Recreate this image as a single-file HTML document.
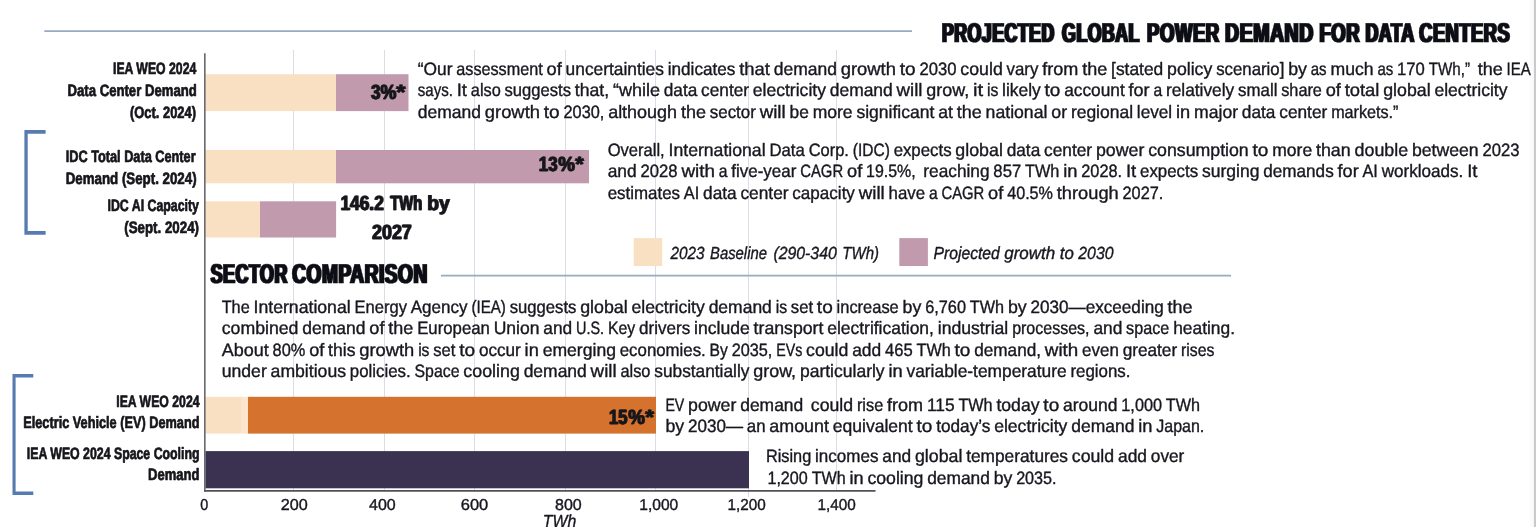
<!DOCTYPE html>
<html lang="en"><head><meta charset="utf-8"><title>Projected Global Power Demand for Data Centers</title>
<style>
html,body{margin:0;padding:0;background:#fff;overflow:hidden}
body{width:1536px;height:527px}
svg{display:block;text-rendering:geometricPrecision;will-change:transform;font-family:"Liberation Sans",sans-serif}
text{white-space:pre;stroke-linejoin:round}
.p{font-size:17.9px;fill:#17171f;stroke:#17171f;stroke-width:.38px}
.a{font-size:15.8px;fill:#17171f;stroke:#17171f;stroke-width:.38px}
.i{font-size:17.5px;font-style:italic;fill:#17171f;stroke:#17171f;stroke-width:.38px}
.u{font-size:17.5px;font-style:italic;fill:#17171f;stroke:#17171f;stroke-width:.38px}
.l{font-size:16.5px;font-weight:700;fill:#15151a;stroke:#15151a;stroke-width:.7px}
.v{font-size:20.6px;font-weight:700;fill:#15151a;stroke:#15151a;stroke-width:.4px;filter:url(#semi)}
.h{font-size:27.2px;font-weight:700;fill:#111116;stroke:#111116;stroke-width:.45px;letter-spacing:.8px;filter:url(#fat)}
</style>
</head><body>
<svg width="1536" height="527" viewBox="0 0 1536 527">
<defs><filter id="fat" x="-2%" y="-20%" width="104%" height="140%"><feMorphology operator="dilate" radius="1 0"/></filter><filter id="semi" x="-5%" y="-20%" width="110%" height="140%"><feOffset dx="1" dy="0" result="o"/><feMerge><feMergeNode in="SourceGraphic"/><feMergeNode in="o"/></feMerge></filter></defs>
<rect x="1530" y="0" width="4" height="527" fill="#fbfbfb"/>
<rect x="1533.9" y="0" width="2.1" height="527" fill="#cacaca"/>
<rect x="293" y="50" width="1" height="440" fill="#dadde6"/>
<rect x="384" y="50" width="1" height="440" fill="#dadde6"/>
<rect x="474" y="50" width="1" height="440" fill="#dadde6"/>
<rect x="565" y="50" width="1" height="440" fill="#dadde6"/>
<rect x="655" y="50" width="1" height="440" fill="#dadde6"/>
<rect x="748" y="60" width="1" height="437" fill="#dadde6"/>
<rect x="836" y="50" width="1" height="440" fill="#dadde6"/>
<line x1="44.3" y1="31.1" x2="912" y2="31.1" stroke="#97a9c3" stroke-width="1.6"/>
<line x1="441" y1="275.6" x2="1231" y2="275.6" stroke="#97a9c3" stroke-width="1.6"/>
<rect x="205.5" y="74.2" width="130.5" height="36.9" fill="#fae0c3"/>
<rect x="336" y="74.2" width="72.5" height="36.9" fill="#c19aae"/>
<rect x="205.5" y="150" width="130.5" height="33.3" fill="#fae0c3"/>
<rect x="336" y="150" width="253" height="33.3" fill="#c19aae"/>
<rect x="205.5" y="201.3" width="54.5" height="36.2" fill="#fae0c3"/>
<rect x="260" y="201.3" width="76.1" height="36.2" fill="#c19aae"/>
<rect x="205.5" y="396.8" width="35.5" height="36.8" fill="#fae0c3"/>
<rect x="241" y="396.8" width="7" height="36.8" fill="#fce5cc"/>
<rect x="248" y="396.8" width="408" height="36.8" fill="#d4722e"/>
<rect x="205.5" y="451.1" width="543.5" height="37.2" fill="#3b3252"/>
<rect x="633.7" y="238.1" width="28.5" height="27.9" fill="#fae0c3"/>
<rect x="899.3" y="238.1" width="28.6" height="27.9" fill="#c19aae"/>
<line x1="204.85" y1="53.3" x2="204.85" y2="491.6" stroke="#505058" stroke-width="1.4"/>
<line x1="204.1" y1="490.85" x2="875.5" y2="490.85" stroke="#505058" stroke-width="1.6"/>
<path d="M45.6,130.1 H24.4 V234.8 H45.6 V231.1 H27.7 V133.8 H45.6 Z" fill="#567bb0"/>
<path d="M33.3,374.1 H12.5 V494.9 H33.3 V491.4 H15.6 V377.6 H33.3 Z" fill="#567bb0"/>
<text class="h" y="42"><tspan x="942" textLength="112.7" lengthAdjust="spacingAndGlyphs">PROJECTED</tspan> <tspan x="1062.1" textLength="77.5" lengthAdjust="spacingAndGlyphs">GLOBAL</tspan> <tspan x="1147.1" textLength="72.7" lengthAdjust="spacingAndGlyphs">POWER</tspan> <tspan x="1225.1" textLength="88.7" lengthAdjust="spacingAndGlyphs">DEMAND</tspan> <tspan x="1319.5" textLength="40.7" lengthAdjust="spacingAndGlyphs">FOR</tspan> <tspan x="1365.4" textLength="48.6" lengthAdjust="spacingAndGlyphs">DATA</tspan> <tspan x="1419.2" textLength="90.9" lengthAdjust="spacingAndGlyphs">CENTERS</tspan></text>
<text class="h" y="283"><tspan x="210.7" textLength="77.1" lengthAdjust="spacingAndGlyphs">SECTOR</tspan> <tspan x="292.3" textLength="135.5" lengthAdjust="spacingAndGlyphs">COMPARISON</tspan></text>
<text class="l" y="74"><tspan x="113" textLength="83.25" lengthAdjust="spacingAndGlyphs">IEA WEO 2024</tspan></text>
<text class="l" y="96"><tspan x="67.5" textLength="129.3" lengthAdjust="spacingAndGlyphs">Data Center Demand</tspan></text>
<text class="l" y="118"><tspan x="130" textLength="66" lengthAdjust="spacingAndGlyphs">(Oct. 2024)</tspan></text>
<text class="l" y="162"><tspan x="65.75" textLength="129.85" lengthAdjust="spacingAndGlyphs">IDC Total Data Center</tspan></text>
<text class="l" y="184"><tspan x="65.75" textLength="130.85" lengthAdjust="spacingAndGlyphs">Demand (Sept. 2024)</tspan></text>
<text class="l" y="211"><tspan x="107.5" textLength="91.5" lengthAdjust="spacingAndGlyphs">IDC AI Capacity</tspan></text>
<text class="l" y="233"><tspan x="124.25" textLength="74.75" lengthAdjust="spacingAndGlyphs">(Sept. 2024)</tspan></text>
<text class="l" y="407"><tspan x="116.25" textLength="83.25" lengthAdjust="spacingAndGlyphs">IEA WEO 2024</tspan></text>
<text class="l" y="428"><tspan x="23.25" textLength="176.25" lengthAdjust="spacingAndGlyphs">Electric Vehicle (EV) Demand</tspan></text>
<text class="l" y="459"><tspan x="26.75" textLength="172.75" lengthAdjust="spacingAndGlyphs">IEA WEO 2024 Space Cooling</tspan></text>
<text class="l" y="480"><tspan x="148" textLength="51.5" lengthAdjust="spacingAndGlyphs">Demand</tspan></text>
<text class="v" y="99"><tspan x="370.4" textLength="9.5" lengthAdjust="spacingAndGlyphs">3</tspan><tspan x="380.1" textLength="15.8" lengthAdjust="spacingAndGlyphs">%</tspan><tspan x="395.8" textLength="9.2" lengthAdjust="spacingAndGlyphs">*</tspan></text>
<text class="v" y="171"><tspan x="538.3" textLength="18.7" lengthAdjust="spacingAndGlyphs">13</tspan><tspan x="557.8" textLength="16.7" lengthAdjust="spacingAndGlyphs">%</tspan><tspan x="574.8" textLength="8.5" lengthAdjust="spacingAndGlyphs">*</tspan></text>
<text class="v" y="424"><tspan x="608.5" textLength="18.5" lengthAdjust="spacingAndGlyphs">15</tspan><tspan x="627.8" textLength="16.7" lengthAdjust="spacingAndGlyphs">%</tspan><tspan x="644.8" textLength="8.7" lengthAdjust="spacingAndGlyphs">*</tspan></text>
<text class="v" y="210.4"><tspan x="339.9" textLength="43.4" lengthAdjust="spacingAndGlyphs">146.2</tspan> <tspan x="389.7" textLength="32" lengthAdjust="spacingAndGlyphs">TWh</tspan> <tspan x="426.7" textLength="22.6" lengthAdjust="spacingAndGlyphs">by</tspan></text>
<text class="v" y="239.4"><tspan x="371.5" textLength="39.8" lengthAdjust="spacingAndGlyphs">2027</tspan></text>
<text class="p" y="75"><tspan x="417.8" textLength="34.69" lengthAdjust="spacingAndGlyphs">“Our</tspan> <tspan x="456.31" textLength="86.45" lengthAdjust="spacingAndGlyphs">assessment</tspan> <tspan x="546.59" textLength="15.19" lengthAdjust="spacingAndGlyphs">of</tspan> <tspan x="565.61" textLength="98.33" lengthAdjust="spacingAndGlyphs">uncertainties</tspan> <tspan x="667.77" textLength="67.62" lengthAdjust="spacingAndGlyphs">indicates</tspan> <tspan x="739.22" textLength="30.68" lengthAdjust="spacingAndGlyphs">that</tspan> <tspan x="773.72" textLength="63.2" lengthAdjust="spacingAndGlyphs">demand</tspan> <tspan x="840.75" textLength="55.2" lengthAdjust="spacingAndGlyphs">growth</tspan> <tspan x="899.77" textLength="15.89" lengthAdjust="spacingAndGlyphs">to</tspan> <tspan x="919.49" textLength="37.05" lengthAdjust="spacingAndGlyphs">2030</tspan> <tspan x="960.37" textLength="42.4" lengthAdjust="spacingAndGlyphs">could</tspan> <tspan x="1006.59" textLength="31.8" lengthAdjust="spacingAndGlyphs">vary</tspan> <tspan x="1042.22" textLength="36.15" lengthAdjust="spacingAndGlyphs">from</tspan> <tspan x="1082.19" textLength="25.04" lengthAdjust="spacingAndGlyphs">the</tspan> <tspan x="1111.07" textLength="52.16" lengthAdjust="spacingAndGlyphs">[stated</tspan> <tspan x="1167.06" textLength="45.27" lengthAdjust="spacingAndGlyphs">policy</tspan> <tspan x="1216.15" textLength="68.18" lengthAdjust="spacingAndGlyphs">scenario]</tspan> <tspan x="1288.16" textLength="18.78" lengthAdjust="spacingAndGlyphs">by</tspan> <tspan x="1310.77" textLength="15.85" lengthAdjust="spacingAndGlyphs">as</tspan> <tspan x="1330.45" textLength="43.12" lengthAdjust="spacingAndGlyphs">much</tspan> <tspan x="1377.39" textLength="15.85" lengthAdjust="spacingAndGlyphs">as</tspan> <tspan x="1397.08" textLength="27.79" lengthAdjust="spacingAndGlyphs">170</tspan> <tspan x="1428.69" textLength="41.33" lengthAdjust="spacingAndGlyphs">TWh,”</tspan> <tspan x="1477.68" textLength="25.04" lengthAdjust="spacingAndGlyphs">the</tspan> <tspan x="1506.55" textLength="24.25" lengthAdjust="spacingAndGlyphs">IEA</tspan></text>
<text class="p" y="96"><tspan x="417.8" textLength="35.13" lengthAdjust="spacingAndGlyphs">says.</tspan> <tspan x="456.75" textLength="10.26" lengthAdjust="spacingAndGlyphs">It</tspan> <tspan x="470.82" textLength="29.93" lengthAdjust="spacingAndGlyphs">also</tspan> <tspan x="504.57" textLength="66.4" lengthAdjust="spacingAndGlyphs">suggests</tspan> <tspan x="574.78" textLength="34.31" lengthAdjust="spacingAndGlyphs">that,</tspan> <tspan x="612.9" textLength="47.08" lengthAdjust="spacingAndGlyphs">“while</tspan> <tspan x="663.8" textLength="33.46" lengthAdjust="spacingAndGlyphs">data</tspan> <tspan x="701.08" textLength="47.93" lengthAdjust="spacingAndGlyphs">center</tspan> <tspan x="752.82" textLength="73.11" lengthAdjust="spacingAndGlyphs">electricity</tspan> <tspan x="829.75" textLength="62.99" lengthAdjust="spacingAndGlyphs">demand</tspan> <tspan x="896.56" textLength="25.95" lengthAdjust="spacingAndGlyphs">will</tspan> <tspan x="926.33" textLength="42.8" lengthAdjust="spacingAndGlyphs">grow,</tspan> <tspan x="972.95" textLength="10.17" lengthAdjust="spacingAndGlyphs">it</tspan> <tspan x="986.93" textLength="11.34" lengthAdjust="spacingAndGlyphs">is</tspan> <tspan x="1002.08" textLength="38.64" lengthAdjust="spacingAndGlyphs">likely</tspan> <tspan x="1044.54" textLength="15.84" lengthAdjust="spacingAndGlyphs">to</tspan> <tspan x="1064.2" textLength="60.55" lengthAdjust="spacingAndGlyphs">account</tspan> <tspan x="1128.56" textLength="21.02" lengthAdjust="spacingAndGlyphs">for</tspan> <tspan x="1153.4" textLength="8.68" lengthAdjust="spacingAndGlyphs">a</tspan> <tspan x="1165.89" textLength="68.39" lengthAdjust="spacingAndGlyphs">relatively</tspan> <tspan x="1238.1" textLength="39.31" lengthAdjust="spacingAndGlyphs">small</tspan> <tspan x="1281.22" textLength="40.69" lengthAdjust="spacingAndGlyphs">share</tspan> <tspan x="1325.73" textLength="15.14" lengthAdjust="spacingAndGlyphs">of</tspan> <tspan x="1344.69" textLength="34.72" lengthAdjust="spacingAndGlyphs">total</tspan> <tspan x="1383.22" textLength="47.35" lengthAdjust="spacingAndGlyphs">global</tspan> <tspan x="1434.39" textLength="73.11" lengthAdjust="spacingAndGlyphs">electricity</tspan></text>
<text class="p" y="118"><tspan x="417.8" textLength="63.19" lengthAdjust="spacingAndGlyphs">demand</tspan> <tspan x="484.81" textLength="55.19" lengthAdjust="spacingAndGlyphs">growth</tspan> <tspan x="543.83" textLength="15.89" lengthAdjust="spacingAndGlyphs">to</tspan> <tspan x="563.54" textLength="40.78" lengthAdjust="spacingAndGlyphs">2030,</tspan> <tspan x="608.15" textLength="68.93" lengthAdjust="spacingAndGlyphs">although</tspan> <tspan x="680.91" textLength="25.04" lengthAdjust="spacingAndGlyphs">the</tspan> <tspan x="709.77" textLength="46.07" lengthAdjust="spacingAndGlyphs">sector</tspan> <tspan x="759.67" textLength="26.03" lengthAdjust="spacingAndGlyphs">will</tspan> <tspan x="789.53" textLength="19.32" lengthAdjust="spacingAndGlyphs">be</tspan> <tspan x="812.68" textLength="39.92" lengthAdjust="spacingAndGlyphs">more</tspan> <tspan x="856.42" textLength="77.99" lengthAdjust="spacingAndGlyphs">significant</tspan> <tspan x="938.24" textLength="14.68" lengthAdjust="spacingAndGlyphs">at</tspan> <tspan x="956.74" textLength="25.04" lengthAdjust="spacingAndGlyphs">the</tspan> <tspan x="985.61" textLength="61.81" lengthAdjust="spacingAndGlyphs">national</tspan> <tspan x="1051.25" textLength="15.81" lengthAdjust="spacingAndGlyphs">or</tspan> <tspan x="1070.89" textLength="62.16" lengthAdjust="spacingAndGlyphs">regional</tspan> <tspan x="1136.87" textLength="35.29" lengthAdjust="spacingAndGlyphs">level</tspan> <tspan x="1176" textLength="14.24" lengthAdjust="spacingAndGlyphs">in</tspan> <tspan x="1194.07" textLength="43.96" lengthAdjust="spacingAndGlyphs">major</tspan> <tspan x="1241.85" textLength="33.56" lengthAdjust="spacingAndGlyphs">data</tspan> <tspan x="1279.24" textLength="48.08" lengthAdjust="spacingAndGlyphs">center</tspan> <tspan x="1331.14" textLength="67.36" lengthAdjust="spacingAndGlyphs">markets.”</tspan></text>
<text class="p" y="156"><tspan x="607.7" textLength="57.02" lengthAdjust="spacingAndGlyphs">Overall,</tspan> <tspan x="668.54" textLength="97.05" lengthAdjust="spacingAndGlyphs">International</tspan> <tspan x="769.42" textLength="35.39" lengthAdjust="spacingAndGlyphs">Data</tspan> <tspan x="808.64" textLength="40.28" lengthAdjust="spacingAndGlyphs">Corp.</tspan> <tspan x="852.75" textLength="37.05" lengthAdjust="spacingAndGlyphs">(IDC)</tspan> <tspan x="893.63" textLength="57.92" lengthAdjust="spacingAndGlyphs">expects</tspan> <tspan x="955.37" textLength="47.49" lengthAdjust="spacingAndGlyphs">global</tspan> <tspan x="1006.68" textLength="33.55" lengthAdjust="spacingAndGlyphs">data</tspan> <tspan x="1044.06" textLength="48.06" lengthAdjust="spacingAndGlyphs">center</tspan> <tspan x="1095.95" textLength="48.41" lengthAdjust="spacingAndGlyphs">power</tspan> <tspan x="1148.19" textLength="100.55" lengthAdjust="spacingAndGlyphs">consumption</tspan> <tspan x="1252.56" textLength="15.88" lengthAdjust="spacingAndGlyphs">to</tspan> <tspan x="1272.27" textLength="39.91" lengthAdjust="spacingAndGlyphs">more</tspan> <tspan x="1316" textLength="34.71" lengthAdjust="spacingAndGlyphs">than</tspan> <tspan x="1354.54" textLength="53.6" lengthAdjust="spacingAndGlyphs">double</tspan> <tspan x="1411.97" textLength="66.67" lengthAdjust="spacingAndGlyphs">between</tspan> <tspan x="1482.46" textLength="37.04" lengthAdjust="spacingAndGlyphs">2023</tspan></text>
<text class="p" y="177"><tspan x="607.7" textLength="28.95" lengthAdjust="spacingAndGlyphs">and</tspan> <tspan x="640.48" textLength="37.1" lengthAdjust="spacingAndGlyphs">2028</tspan> <tspan x="681.41" textLength="33.56" lengthAdjust="spacingAndGlyphs">with</tspan> <tspan x="718.8" textLength="8.71" lengthAdjust="spacingAndGlyphs">a</tspan> <tspan x="731.35" textLength="65.02" lengthAdjust="spacingAndGlyphs">five-year</tspan> <tspan x="800.2" textLength="42.96" lengthAdjust="spacingAndGlyphs">CAGR</tspan> <tspan x="847" textLength="15.21" lengthAdjust="spacingAndGlyphs">of</tspan> <tspan x="866.03" textLength="49.63" lengthAdjust="spacingAndGlyphs">19.5%,</tspan> <tspan x="923.33" textLength="66.19" lengthAdjust="spacingAndGlyphs">reaching</tspan> <tspan x="993.36" textLength="27.83" lengthAdjust="spacingAndGlyphs">857</tspan> <tspan x="1025.02" textLength="34.32" lengthAdjust="spacingAndGlyphs">TWh</tspan> <tspan x="1063.17" textLength="14.27" lengthAdjust="spacingAndGlyphs">in</tspan> <tspan x="1081.27" textLength="40.84" lengthAdjust="spacingAndGlyphs">2028.</tspan> <tspan x="1125.94" textLength="10.31" lengthAdjust="spacingAndGlyphs">It</tspan> <tspan x="1140.08" textLength="58.02" lengthAdjust="spacingAndGlyphs">expects</tspan> <tspan x="1201.93" textLength="57.51" lengthAdjust="spacingAndGlyphs">surging</tspan> <tspan x="1263.28" textLength="70.44" lengthAdjust="spacingAndGlyphs">demands</tspan> <tspan x="1337.56" textLength="21.12" lengthAdjust="spacingAndGlyphs">for</tspan> <tspan x="1362.51" textLength="15.39" lengthAdjust="spacingAndGlyphs">AI</tspan> <tspan x="1381.73" textLength="81.63" lengthAdjust="spacingAndGlyphs">workloads.</tspan> <tspan x="1467.19" textLength="10.31" lengthAdjust="spacingAndGlyphs">It</tspan></text>
<text class="p" y="199"><tspan x="607.7" textLength="72.33" lengthAdjust="spacingAndGlyphs">estimates</tspan> <tspan x="683.86" textLength="15.37" lengthAdjust="spacingAndGlyphs">AI</tspan> <tspan x="703.05" textLength="33.56" lengthAdjust="spacingAndGlyphs">data</tspan> <tspan x="740.44" textLength="48.08" lengthAdjust="spacingAndGlyphs">center</tspan> <tspan x="792.35" textLength="62.56" lengthAdjust="spacingAndGlyphs">capacity</tspan> <tspan x="858.74" textLength="26.04" lengthAdjust="spacingAndGlyphs">will</tspan> <tspan x="888.61" textLength="36.45" lengthAdjust="spacingAndGlyphs">have</tspan> <tspan x="928.89" textLength="8.7" lengthAdjust="spacingAndGlyphs">a</tspan> <tspan x="941.42" textLength="42.9" lengthAdjust="spacingAndGlyphs">CAGR</tspan> <tspan x="988.14" textLength="15.18" lengthAdjust="spacingAndGlyphs">of</tspan> <tspan x="1007.16" textLength="45.82" lengthAdjust="spacingAndGlyphs">40.5%</tspan> <tspan x="1056.81" textLength="61.88" lengthAdjust="spacingAndGlyphs">through</tspan> <tspan x="1122.51" textLength="40.79" lengthAdjust="spacingAndGlyphs">2027.</tspan></text>
<text class="p" y="313"><tspan x="221.7" textLength="28.04" lengthAdjust="spacingAndGlyphs">The</tspan> <tspan x="253.57" textLength="97.08" lengthAdjust="spacingAndGlyphs">International</tspan> <tspan x="354.48" textLength="52.45" lengthAdjust="spacingAndGlyphs">Energy</tspan> <tspan x="410.76" textLength="56.8" lengthAdjust="spacingAndGlyphs">Agency</tspan> <tspan x="471.39" textLength="34.5" lengthAdjust="spacingAndGlyphs">(IEA)</tspan> <tspan x="509.72" textLength="66.61" lengthAdjust="spacingAndGlyphs">suggests</tspan> <tspan x="580.15" textLength="47.5" lengthAdjust="spacingAndGlyphs">global</tspan> <tspan x="631.48" textLength="73.34" lengthAdjust="spacingAndGlyphs">electricity</tspan> <tspan x="708.65" textLength="63.19" lengthAdjust="spacingAndGlyphs">demand</tspan> <tspan x="775.67" textLength="11.37" lengthAdjust="spacingAndGlyphs">is</tspan> <tspan x="790.87" textLength="22.17" lengthAdjust="spacingAndGlyphs">set</tspan> <tspan x="816.87" textLength="15.89" lengthAdjust="spacingAndGlyphs">to</tspan> <tspan x="836.59" textLength="62.18" lengthAdjust="spacingAndGlyphs">increase</tspan> <tspan x="902.6" textLength="18.78" lengthAdjust="spacingAndGlyphs">by</tspan> <tspan x="925.2" textLength="40.79" lengthAdjust="spacingAndGlyphs">6,760</tspan> <tspan x="969.82" textLength="34.27" lengthAdjust="spacingAndGlyphs">TWh</tspan> <tspan x="1007.91" textLength="18.78" lengthAdjust="spacingAndGlyphs">by</tspan> <tspan x="1030.52" textLength="133.21" lengthAdjust="spacingAndGlyphs">2030—exceeding</tspan> <tspan x="1167.56" textLength="25.04" lengthAdjust="spacingAndGlyphs">the</tspan></text>
<text class="p" y="334"><tspan x="221.7" textLength="76.79" lengthAdjust="spacingAndGlyphs">combined</tspan> <tspan x="302.31" textLength="63.18" lengthAdjust="spacingAndGlyphs">demand</tspan> <tspan x="369.31" textLength="15.18" lengthAdjust="spacingAndGlyphs">of</tspan> <tspan x="388.32" textLength="25.04" lengthAdjust="spacingAndGlyphs">the</tspan> <tspan x="417.18" textLength="72.67" lengthAdjust="spacingAndGlyphs">European</tspan> <tspan x="493.68" textLength="45.85" lengthAdjust="spacingAndGlyphs">Union</tspan> <tspan x="543.35" textLength="28.9" lengthAdjust="spacingAndGlyphs">and</tspan> <tspan x="576.08" textLength="28.05" lengthAdjust="spacingAndGlyphs">U.S.</tspan> <tspan x="607.96" textLength="27.33" lengthAdjust="spacingAndGlyphs">Key</tspan> <tspan x="639.11" textLength="51.08" lengthAdjust="spacingAndGlyphs">drivers</tspan> <tspan x="694.02" textLength="55.76" lengthAdjust="spacingAndGlyphs">include</tspan> <tspan x="753.6" textLength="69.8" lengthAdjust="spacingAndGlyphs">transport</tspan> <tspan x="827.23" textLength="106.68" lengthAdjust="spacingAndGlyphs">electrification,</tspan> <tspan x="937.73" textLength="70.58" lengthAdjust="spacingAndGlyphs">industrial</tspan> <tspan x="1012.13" textLength="77.44" lengthAdjust="spacingAndGlyphs">processes,</tspan> <tspan x="1093.4" textLength="28.9" lengthAdjust="spacingAndGlyphs">and</tspan> <tspan x="1126.12" textLength="43.25" lengthAdjust="spacingAndGlyphs">space</tspan> <tspan x="1173.2" textLength="61.8" lengthAdjust="spacingAndGlyphs">heating.</tspan></text>
<text class="p" y="356"><tspan x="221.7" textLength="47.06" lengthAdjust="spacingAndGlyphs">About</tspan> <tspan x="272.58" textLength="32.75" lengthAdjust="spacingAndGlyphs">80%</tspan> <tspan x="309.15" textLength="15.15" lengthAdjust="spacingAndGlyphs">of</tspan> <tspan x="328.12" textLength="27.31" lengthAdjust="spacingAndGlyphs">this</tspan> <tspan x="359.25" textLength="55.07" lengthAdjust="spacingAndGlyphs">growth</tspan> <tspan x="418.14" textLength="11.35" lengthAdjust="spacingAndGlyphs">is</tspan> <tspan x="433.31" textLength="22.12" lengthAdjust="spacingAndGlyphs">set</tspan> <tspan x="459.25" textLength="15.85" lengthAdjust="spacingAndGlyphs">to</tspan> <tspan x="478.93" textLength="41.85" lengthAdjust="spacingAndGlyphs">occur</tspan> <tspan x="524.6" textLength="14.21" lengthAdjust="spacingAndGlyphs">in</tspan> <tspan x="542.63" textLength="73.32" lengthAdjust="spacingAndGlyphs">emerging</tspan> <tspan x="619.77" textLength="86.01" lengthAdjust="spacingAndGlyphs">economies.</tspan> <tspan x="709.6" textLength="18.25" lengthAdjust="spacingAndGlyphs">By</tspan> <tspan x="731.67" textLength="40.7" lengthAdjust="spacingAndGlyphs">2035,</tspan> <tspan x="776.19" textLength="26.05" lengthAdjust="spacingAndGlyphs">EVs</tspan> <tspan x="806.06" textLength="42.3" lengthAdjust="spacingAndGlyphs">could</tspan> <tspan x="852.18" textLength="29.01" lengthAdjust="spacingAndGlyphs">add</tspan> <tspan x="885" textLength="27.73" lengthAdjust="spacingAndGlyphs">465</tspan> <tspan x="916.55" textLength="34.19" lengthAdjust="spacingAndGlyphs">TWh</tspan> <tspan x="954.56" textLength="15.85" lengthAdjust="spacingAndGlyphs">to</tspan> <tspan x="974.23" textLength="66.78" lengthAdjust="spacingAndGlyphs">demand,</tspan> <tspan x="1044.84" textLength="33.44" lengthAdjust="spacingAndGlyphs">with</tspan> <tspan x="1082.09" textLength="36.72" lengthAdjust="spacingAndGlyphs">even</tspan> <tspan x="1122.63" textLength="54.55" lengthAdjust="spacingAndGlyphs">greater</tspan> <tspan x="1181" textLength="33.4" lengthAdjust="spacingAndGlyphs">rises</tspan></text>
<text class="p" y="377"><tspan x="221.7" textLength="45.07" lengthAdjust="spacingAndGlyphs">under</tspan> <tspan x="270.6" textLength="75.42" lengthAdjust="spacingAndGlyphs">ambitious</tspan> <tspan x="349.84" textLength="60.88" lengthAdjust="spacingAndGlyphs">policies.</tspan> <tspan x="414.54" textLength="44.98" lengthAdjust="spacingAndGlyphs">Space</tspan> <tspan x="463.35" textLength="56.47" lengthAdjust="spacingAndGlyphs">cooling</tspan> <tspan x="523.65" textLength="63.15" lengthAdjust="spacingAndGlyphs">demand</tspan> <tspan x="590.62" textLength="26.02" lengthAdjust="spacingAndGlyphs">will</tspan> <tspan x="620.46" textLength="30.01" lengthAdjust="spacingAndGlyphs">also</tspan> <tspan x="654.3" textLength="95.09" lengthAdjust="spacingAndGlyphs">substantially</tspan> <tspan x="753.21" textLength="42.91" lengthAdjust="spacingAndGlyphs">grow,</tspan> <tspan x="799.94" textLength="84.69" lengthAdjust="spacingAndGlyphs">particularly</tspan> <tspan x="888.46" textLength="14.24" lengthAdjust="spacingAndGlyphs">in</tspan> <tspan x="906.52" textLength="160.11" lengthAdjust="spacingAndGlyphs">variable-temperature</tspan> <tspan x="1070.45" textLength="60.05" lengthAdjust="spacingAndGlyphs">regions.</tspan></text>
<text class="p" y="411"><tspan x="665.4" textLength="18.9" lengthAdjust="spacingAndGlyphs">EV</tspan> <tspan x="688.12" textLength="48.28" lengthAdjust="spacingAndGlyphs">power</tspan> <tspan x="740.22" textLength="63.01" lengthAdjust="spacingAndGlyphs">demand</tspan> <tspan x="810.86" textLength="42.27" lengthAdjust="spacingAndGlyphs">could</tspan> <tspan x="856.95" textLength="26.25" lengthAdjust="spacingAndGlyphs">rise</tspan> <tspan x="887.02" textLength="36.04" lengthAdjust="spacingAndGlyphs">from</tspan> <tspan x="926.88" textLength="27.71" lengthAdjust="spacingAndGlyphs">115</tspan> <tspan x="958.4" textLength="34.17" lengthAdjust="spacingAndGlyphs">TWh</tspan> <tspan x="996.39" textLength="43.15" lengthAdjust="spacingAndGlyphs">today</tspan> <tspan x="1043.36" textLength="15.84" lengthAdjust="spacingAndGlyphs">to</tspan> <tspan x="1063.01" textLength="54.51" lengthAdjust="spacingAndGlyphs">around</tspan> <tspan x="1121.34" textLength="40.67" lengthAdjust="spacingAndGlyphs">1,000</tspan> <tspan x="1165.83" textLength="34.17" lengthAdjust="spacingAndGlyphs">TWh</tspan></text>
<text class="p" y="432"><tspan x="665.4" textLength="18.76" lengthAdjust="spacingAndGlyphs">by</tspan> <tspan x="687.98" textLength="55.04" lengthAdjust="spacingAndGlyphs">2030—</tspan> <tspan x="746.84" textLength="18.7" lengthAdjust="spacingAndGlyphs">an</tspan> <tspan x="769.37" textLength="59.55" lengthAdjust="spacingAndGlyphs">amount</tspan> <tspan x="832.74" textLength="79.98" lengthAdjust="spacingAndGlyphs">equivalent</tspan> <tspan x="916.55" textLength="15.87" lengthAdjust="spacingAndGlyphs">to</tspan> <tspan x="936.24" textLength="54.1" lengthAdjust="spacingAndGlyphs">today’s</tspan> <tspan x="994.16" textLength="73.26" lengthAdjust="spacingAndGlyphs">electricity</tspan> <tspan x="1071.24" textLength="63.12" lengthAdjust="spacingAndGlyphs">demand</tspan> <tspan x="1138.19" textLength="14.23" lengthAdjust="spacingAndGlyphs">in</tspan> <tspan x="1156.24" textLength="48.06" lengthAdjust="spacingAndGlyphs">Japan.</tspan></text>
<text class="p" y="462"><tspan x="765.9" textLength="45.34" lengthAdjust="spacingAndGlyphs">Rising</tspan> <tspan x="815.06" textLength="63.38" lengthAdjust="spacingAndGlyphs">incomes</tspan> <tspan x="882.27" textLength="28.85" lengthAdjust="spacingAndGlyphs">and</tspan> <tspan x="914.94" textLength="47.42" lengthAdjust="spacingAndGlyphs">global</tspan> <tspan x="966.18" textLength="101.84" lengthAdjust="spacingAndGlyphs">temperatures</tspan> <tspan x="1071.84" textLength="42.32" lengthAdjust="spacingAndGlyphs">could</tspan> <tspan x="1117.98" textLength="29.02" lengthAdjust="spacingAndGlyphs">add</tspan> <tspan x="1150.82" textLength="33.48" lengthAdjust="spacingAndGlyphs">over</tspan></text>
<text class="p" y="484"><tspan x="767.4" textLength="40.46" lengthAdjust="spacingAndGlyphs">1,200</tspan> <tspan x="811.66" textLength="33.99" lengthAdjust="spacingAndGlyphs">TWh</tspan> <tspan x="849.45" textLength="14.13" lengthAdjust="spacingAndGlyphs">in</tspan> <tspan x="867.38" textLength="56.06" lengthAdjust="spacingAndGlyphs">cooling</tspan> <tspan x="927.23" textLength="62.69" lengthAdjust="spacingAndGlyphs">demand</tspan> <tspan x="993.72" textLength="18.63" lengthAdjust="spacingAndGlyphs">by</tspan> <tspan x="1016.14" textLength="40.46" lengthAdjust="spacingAndGlyphs">2035.</tspan></text>
<text class="i" y="259"><tspan x="670.5" textLength="34" lengthAdjust="spacingAndGlyphs">2023</tspan> <tspan x="710" textLength="57" lengthAdjust="spacingAndGlyphs">Baseline</tspan> <tspan x="773.4" textLength="63.4" lengthAdjust="spacingAndGlyphs">(290-340</tspan> <tspan x="842.3" textLength="36.7" lengthAdjust="spacingAndGlyphs">TWh)</tspan></text>
<text class="i" y="259"><tspan x="933.5" textLength="66.3" lengthAdjust="spacingAndGlyphs">Projected</tspan> <tspan x="1004.2" textLength="51" lengthAdjust="spacingAndGlyphs">growth</tspan> <tspan x="1059.7" textLength="14.1" lengthAdjust="spacingAndGlyphs">to</tspan> <tspan x="1078.3" textLength="35.2" lengthAdjust="spacingAndGlyphs">2030</tspan></text>
<text class="a" y="510"><tspan x="200.25" textLength="8" lengthAdjust="spacingAndGlyphs">0</tspan></text>
<text class="a" y="510"><tspan x="280.75" textLength="27" lengthAdjust="spacingAndGlyphs">200</tspan></text>
<text class="a" y="510"><tspan x="369" textLength="26.75" lengthAdjust="spacingAndGlyphs">400</tspan></text>
<text class="a" y="510"><tspan x="460.75" textLength="27.5" lengthAdjust="spacingAndGlyphs">600</tspan></text>
<text class="a" y="510"><tspan x="555" textLength="26.75" lengthAdjust="spacingAndGlyphs">800</tspan></text>
<text class="a" y="510"><tspan x="639.25" textLength="39" lengthAdjust="spacingAndGlyphs">1,000</tspan></text>
<text class="a" y="510"><tspan x="727.5" textLength="38.25" lengthAdjust="spacingAndGlyphs">1,200</tspan></text>
<text class="a" y="510"><tspan x="817.5" textLength="38.25" lengthAdjust="spacingAndGlyphs">1,400</tspan></text>
<text class="u" y="527"><tspan x="542.8" textLength="33.4" lengthAdjust="spacingAndGlyphs">TWh</tspan></text>
</svg>
</body></html>
